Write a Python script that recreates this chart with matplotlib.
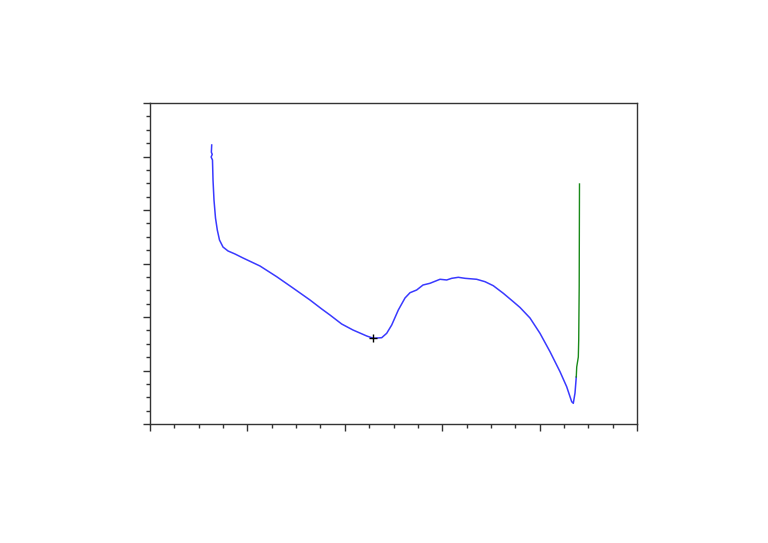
import matplotlib
matplotlib.use("Agg")
import matplotlib.pyplot as plt
from matplotlib.ticker import MultipleLocator, NullFormatter

# Blue trace
blue_x = [12.67, 12.60, 12.78, 12.55, 12.83, 12.94, 13.14, 13.45, 13.82, 14.27, 14.99, 16.02,
          17.45, 19.10, 22.59, 26.02, 29.36, 32.85, 35.26, 36.96, 39.36, 41.68, 44.50,
          45.85, 47.58, 48.60, 49.63, 50.99, 52.36, 53.39, 54.76, 56.06, 57.49,
          59.55, 60.92, 61.95, 63.31, 64.68, 67.08, 68.79, 70.49, 72.55, 74.60,
          75.98, 78.03, 80.08, 82.14, 84.19, 85.56, 86.59, 86.92, 87.27, 87.53]
blue_y = [5.215, 5.08, 5.04, 4.99, 4.935, 4.561, 4.187, 3.850, 3.626, 3.439, 3.308, 3.234,
          3.178, 3.103, 2.953, 2.753, 2.542, 2.318, 2.150, 2.037, 1.869, 1.757, 1.645,
          1.602, 1.613, 1.695, 1.850, 2.131, 2.355, 2.454, 2.505, 2.598, 2.630,
          2.705, 2.692, 2.723, 2.742, 2.723, 2.705, 2.660, 2.585, 2.443, 2.286,
          2.178, 1.981, 1.695, 1.351, 0.978, 0.697, 0.417, 0.387, 0.579, 0.879]

# Green trace
green_x = [87.53, 87.62, 87.95, 88.03, 88.13, 88.19]
green_y = [0.879, 1.065, 1.252, 1.570, 2.561, 4.486]

# Marker
mark_x = [45.85]
mark_y = [1.60]

fig = plt.figure(figsize=(7.68, 5.43), dpi=100)
ax = fig.add_axes([150/768, 1 - 424/543, 487/768, 321/543])

ax.plot(blue_x, blue_y, color="#3a3aff", lw=1.1)
ax.plot(green_x, green_y, color="#1a8a1a", lw=1.0)
ax.plot(mark_x, mark_y, marker="+", color="black", ms=6, mew=1.0, ls="none")

ax.set_xlim(0, 100)
ax.set_ylim(0, 6)
ax.xaxis.set_major_locator(MultipleLocator(20))
ax.xaxis.set_minor_locator(MultipleLocator(5))
ax.yaxis.set_major_locator(MultipleLocator(1))
ax.yaxis.set_minor_locator(MultipleLocator(0.25))
ax.xaxis.set_major_formatter(NullFormatter())
ax.yaxis.set_major_formatter(NullFormatter())
ax.tick_params(which="both", direction="out", top=False, right=False, color="#333333", width=1)
ax.tick_params(which="major", length=5)
ax.tick_params(which="minor", length=3)
for s in ax.spines.values():
    s.set_color("#333333")
    s.set_linewidth(1.0)

fig.savefig("out.png", dpi=100)
